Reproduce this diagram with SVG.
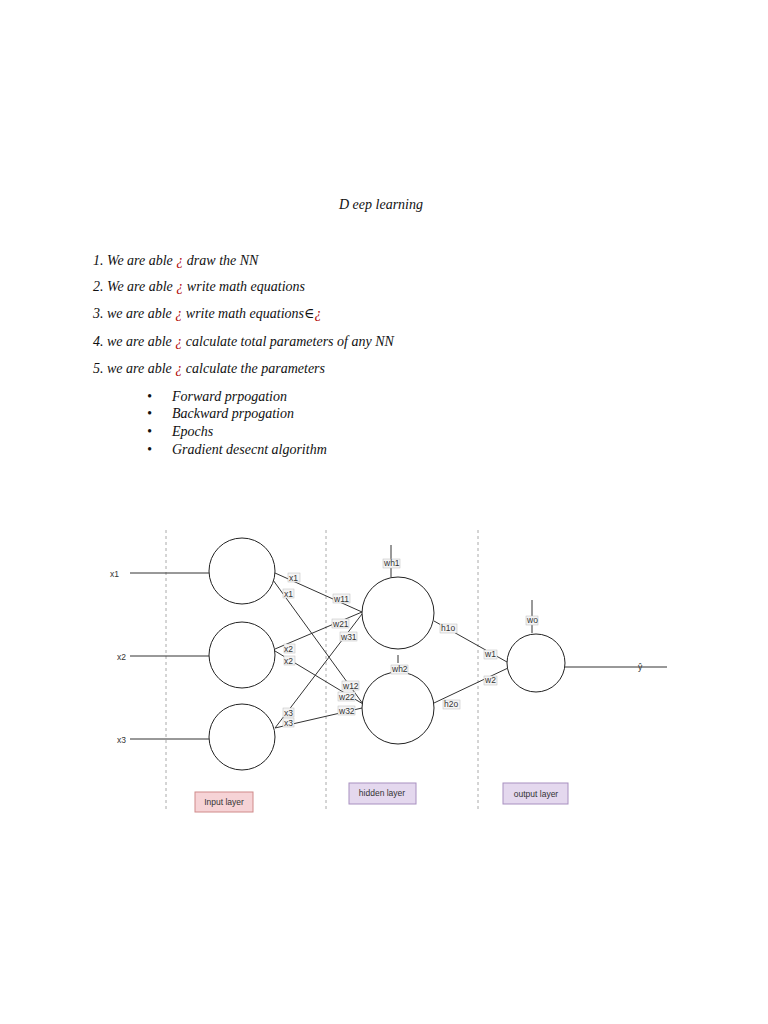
<svg xmlns="http://www.w3.org/2000/svg" width="768" height="1024" viewBox="0 0 768 1024">
<style>
.t{font-family:"Liberation Serif","DejaVu Serif",serif;font-style:italic;font-size:14px;fill:#111}
.b{font-family:"Liberation Serif",serif;font-style:italic;font-size:14px;fill:#111}
.r{fill:#b00000}
.n{fill:#fff;stroke:#222;stroke-width:1}
.e{stroke:#333;stroke-width:1;fill:none}
.d{stroke:#aaa;stroke-width:1;stroke-dasharray:3,3}
.s{font-family:"Liberation Sans",Arial,sans-serif;font-size:8.5px;fill:#333}
.lb{fill:#f4f4f4;stroke:#bbb;stroke-width:0.5}
.lg{font-family:"Liberation Sans",Arial,sans-serif;font-size:8.5px;fill:#333;text-anchor:middle}
</style>
<rect width="768" height="1024" fill="#fff"/>
<text class="t" x="339" y="209">D eep learning</text>
<text class="t" x="93" y="265">1. We are able <tspan class="r">¿</tspan> draw the NN</text>
<text class="t" x="93" y="291">2. We are able <tspan class="r">¿</tspan> write math equations</text>
<text class="t" x="93" y="318">3. we are able <tspan class="r">¿</tspan> write math equations∈<tspan class="r">¿</tspan></text>
<text class="t" x="93" y="346">4. we are able <tspan class="r">¿</tspan> calculate total  parameters of any NN</text>
<text class="t" x="93" y="373">5. we are able <tspan class="r">¿</tspan> calculate the parameters</text>
<g class="b">
<text x="147" y="401">•</text><text x="172" y="401">Forward prpogation</text>
<text x="147" y="418">•</text><text x="172" y="418">Backward prpogation</text>
<text x="147" y="436">•</text><text x="172" y="436">Epochs</text>
<text x="147" y="454">•</text><text x="172" y="454">Gradient desecnt algorithm</text>
</g>
<g id="dividers">
<line class="d" x1="166" y1="530" x2="166" y2="812"/>
<line class="d" x1="326" y1="530" x2="326" y2="812"/>
<line class="d" x1="478" y1="530" x2="478" y2="812"/>
</g>
<g id="connectors">
<line class="e" x1="130" y1="573" x2="209" y2="573"/>
<line class="e" x1="130" y1="656" x2="209" y2="656"/>
<line class="e" x1="130" y1="739" x2="209" y2="739"/>
<line class="e" x1="275" y1="573" x2="362" y2="612"/>
<line class="e" x1="273" y1="580" x2="363" y2="704"/>
<line class="e" x1="275" y1="649" x2="362" y2="612"/>
<line class="e" x1="275" y1="651" x2="363" y2="704"/>
<line class="e" x1="275" y1="728" x2="362" y2="614"/>
<line class="e" x1="275" y1="728" x2="362" y2="708"/>
<line class="e" x1="391" y1="545" x2="391" y2="577"/>
<line class="e" x1="398" y1="655" x2="398" y2="663"/>
<line class="e" x1="532" y1="600" x2="532" y2="633"/>
<line class="e" x1="434" y1="621" x2="507" y2="662"/>
<line class="e" x1="434" y1="703" x2="508" y2="668"/>
<line class="e" x1="565" y1="667" x2="667" y2="667"/>
</g>
<g id="in1"><circle class="n" cx="242" cy="571" r="33"/></g>
<g id="in2"><circle class="n" cx="242" cy="655" r="33"/></g>
<g id="in3"><circle class="n" cx="242" cy="737" r="33"/></g>
<g id="h1"><circle class="n" cx="398" cy="613" r="36"/></g>
<g id="h2"><circle class="n" cx="398" cy="708" r="36"/></g>
<g id="out"><circle class="n" cx="536" cy="663" r="29"/></g>
<g id="labels">
<text class="s" x="110" y="577">x1</text>
<text class="s" x="117" y="660">x2</text>
<text class="s" x="117" y="743">x3</text>
<rect class="lb" x="288" y="573" width="12" height="9"/><text class="s" x="289" y="581">x1</text>
<rect class="lb" x="283" y="589" width="11" height="9"/><text class="s" x="284" y="597">x1</text>
<rect class="lb" x="333" y="594" width="17" height="9"/><text class="s" x="334" y="602">w11</text>
<rect class="lb" x="332" y="619" width="17" height="9"/><text class="s" x="333" y="627">w21</text>
<rect class="lb" x="340" y="632" width="17" height="9"/><text class="s" x="341" y="640">w31</text>
<rect class="lb" x="284" y="644" width="11" height="9"/><text class="s" x="284" y="652">x2</text>
<rect class="lb" x="284" y="656" width="11" height="9"/><text class="s" x="284" y="664">x2</text>
<rect class="lb" x="342" y="681" width="17" height="9"/><text class="s" x="343" y="689">w12</text>
<rect class="lb" x="338" y="692" width="17" height="9"/><text class="s" x="339" y="700">w22</text>
<rect class="lb" x="338" y="706" width="17" height="9"/><text class="s" x="339" y="714">w32</text>
<rect class="lb" x="283" y="708" width="11" height="9"/><text class="s" x="284" y="716">x3</text>
<rect class="lb" x="283" y="718" width="11" height="9"/><text class="s" x="284" y="726">x3</text>
<rect class="lb" x="383" y="559" width="17" height="9"/><text class="s" x="384" y="566">wh1</text>
<rect class="lb" x="391" y="665" width="17" height="9"/><text class="s" x="392" y="672">wh2</text>
<rect class="lb" x="440" y="624" width="17" height="9"/><text class="s" x="441" y="631">h1o</text>
<rect class="lb" x="443" y="700" width="17" height="9"/><text class="s" x="444" y="707">h2o</text>
<rect class="lb" x="484" y="650" width="13" height="9"/><text class="s" x="485" y="657">w1</text>
<rect class="lb" x="484" y="676" width="13" height="9"/><text class="s" x="485" y="683">w2</text>
<rect class="lb" x="526" y="616" width="12" height="9"/><text class="s" x="527" y="623">wo</text>
<text class="s" x="638" y="670">ŷ</text>
</g>
<g id="legend">
<rect x="195" y="792" width="58" height="20" fill="#f6d3d6" stroke="#d08a8a"/><text class="lg" x="224" y="805">Input layer</text>
<rect x="349" y="783" width="67" height="21" fill="#e4d8ee" stroke="#a890c0"/><text class="lg" x="382" y="796">hidden layer</text>
<rect x="503" y="783" width="65" height="21" fill="#e4d8ee" stroke="#a890c0"/><text class="lg" x="536" y="797">output layer</text>
</g>
</svg>
